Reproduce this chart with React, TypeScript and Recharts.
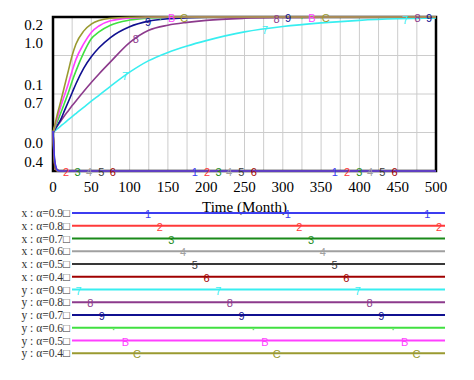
import React from "react";
import {
  ComposedChart,
  Line,
  Scatter,
  XAxis,
  YAxis,
  CartesianGrid,
  ReferenceArea,
} from "recharts";

// sample times (months)
const months = [0, 2, 4, 6, 10, 15, 20, 25, 30, 40, 50, 60, 75, 100, 125, 150, 175, 200, 250, 300, 350, 400, 450, 500];

// x series (left scale 0 - 0.2)
const xA09 = [0.052, 0.016, 0.005, 0.001, 0, 0, 0, 0, 0, 0, 0, 0, 0, 0, 0, 0, 0, 0, 0, 0, 0, 0, 0, 0];
const xA08 = [0.052, 0.014, 0.004, 0.001, 0, 0, 0, 0, 0, 0, 0, 0, 0, 0, 0, 0, 0, 0, 0, 0, 0, 0, 0, 0];
const xA07 = [0.052, 0.012, 0.003, 0.001, 0, 0, 0, 0, 0, 0, 0, 0, 0, 0, 0, 0, 0, 0, 0, 0, 0, 0, 0, 0];
const xA06 = [0.052, 0.011, 0.002, 0, 0, 0, 0, 0, 0, 0, 0, 0, 0, 0, 0, 0, 0, 0, 0, 0, 0, 0, 0, 0];
const xA05 = [0.052, 0.01, 0.002, 0, 0, 0, 0, 0, 0, 0, 0, 0, 0, 0, 0, 0, 0, 0, 0, 0, 0, 0, 0, 0];
const xA04 = [0.052, 0.008, 0.001, 0, 0, 0, 0, 0, 0, 0, 0, 0, 0, 0, 0, 0, 0, 0, 0, 0, 0, 0, 0, 0];

// y series (left scale 0.4 - 1.0)
const yA09 = [0.55, 0.555, 0.56, 0.565, 0.575, 0.587, 0.6, 0.612, 0.624, 0.648, 0.672, 0.695, 0.73, 0.785, 0.83, 0.862, 0.887, 0.908, 0.942, 0.963, 0.977, 0.987, 0.993, 0.996];
const yA08 = [0.55, 0.559, 0.568, 0.577, 0.594, 0.615, 0.635, 0.655, 0.673, 0.71, 0.745, 0.778, 0.825, 0.9, 0.948, 0.968, 0.979, 0.987, 0.995, 0.998, 0.999, 1, 1, 1];
const yA07 = [0.55, 0.56, 0.57, 0.58, 0.6, 0.635, 0.67, 0.705, 0.74, 0.8, 0.845, 0.88, 0.92, 0.962, 0.984, 0.993, 0.997, 0.999, 1, 1, 1, 1, 1, 1];
const yA06 = [0.55, 0.565, 0.58, 0.595, 0.625, 0.665, 0.705, 0.75, 0.79, 0.86, 0.915, 0.942, 0.968, 0.988, 0.996, 0.999, 1, 1, 1, 1, 1, 1, 1, 1];
const yA05 = [0.55, 0.57, 0.59, 0.61, 0.65, 0.695, 0.74, 0.79, 0.835, 0.895, 0.94, 0.965, 0.985, 0.996, 0.999, 1, 1, 1, 1, 1, 1, 1, 1, 1];
const yA04 = [0.55, 0.575, 0.6, 0.625, 0.67, 0.73, 0.79, 0.85, 0.895, 0.945, 0.972, 0.986, 0.995, 0.999, 1, 1, 1, 1, 1, 1, 1, 1, 1, 1];

// where the number markers sit on each line
const mark1 = { t: [185, 368], v: [0, 0] };
const mark2 = { t: [17, 201, 384], v: [0, 0, 0] };
const mark3 = { t: [32, 216, 400], v: [0, 0, 0] };
const mark4 = { t: [47, 230, 414], v: [0, 0, 0] };
const mark5 = { t: [63, 246, 430], v: [0, 0, 0] };
const mark6 = { t: [78, 262, 446], v: [0, 0, 0] };
const mark7 = { t: [94, 277, 460], v: [0.775, 0.955, 0.993] };
const mark8 = { t: [108, 292, 476], v: [0.92, 0.998, 1] };
const mark9 = { t: [124, 307, 491], v: [0.984, 1, 1] };
const mark0 = { t: [140, 325], v: [0.998, 1] };
const markB = { t: [155, 338], v: [1, 1] };
const markC = { t: [171, 356], v: [1, 1] };

const xTicks = [0, 25, 50, 75, 100, 125, 150, 175, 200, 225, 250, 275, 300, 325, 350, 375, 400, 425, 450, 475, 500];
const yTicks = [0.4, 0.55, 0.7, 0.85, 1.0];

const series = [
  { key: "x09", label: "x : α=0.9□", axis: "x", color: "#3c3cf0", sym: "1", values: xA09, marks: mark1 },
  { key: "x08", label: "x : α=0.8□", axis: "x", color: "#ff3a3a", sym: "2", values: xA08, marks: mark2 },
  { key: "x07", label: "x : α=0.7□", axis: "x", color: "#1a8a1a", sym: "3", values: xA07, marks: mark3 },
  { key: "x06", label: "x : α=0.6□", axis: "x", color: "#a0a0a0", sym: "4", values: xA06, marks: mark4 },
  { key: "x05", label: "x : α=0.5□", axis: "x", color: "#383838", sym: "5", values: xA05, marks: mark5 },
  { key: "x04", label: "x : α=0.4□", axis: "x", color: "#a00000", sym: "6", values: xA04, marks: mark6 },
  { key: "y09", label: "y : α=0.9□", axis: "y", color: "#38eef0", sym: "7", values: yA09, marks: mark7 },
  { key: "y08", label: "y : α=0.8□", axis: "y", color: "#8c3a8c", sym: "8", values: yA08, marks: mark8 },
  { key: "y07", label: "y : α=0.7□", axis: "y", color: "#101090", sym: "9", values: yA07, marks: mark9 },
  { key: "y06", label: "y : α=0.6□", axis: "y", color: "#40e040", sym: "·", values: yA06, marks: mark0 },
  { key: "y05", label: "y : α=0.5□", axis: "y", color: "#ff40ff", sym: "B", values: yA05, marks: markB },
  { key: "y04", label: "y : α=0.4□", axis: "y", color: "#9a9a30", sym: "C", values: yA04, marks: markC },
];

const rows = months.map((t, i) => {
  const r: Record<string, number> = { t };
  series.forEach((s) => (r[s.key] = s.values[i]));
  return r;
});

const SERIF = "'Liberation Serif', 'Times New Roman', serif";
const SANS = "'Liberation Sans', Arial, sans-serif";
const Y_LABEL_RIGHT = 43;

const XTick = (props: any) => {
  const { x, y, payload } = props;
  if (payload.value % 50 !== 0) return <g />;
  return (
    <text x={x} y={y + 16} textAnchor="middle" dominantBaseline="central" fontFamily={SERIF} fontSize={15} fill="#000">
      {payload.value}
    </text>
  );
};

// two stacked scales on the left: x (0-0.2) above y (0.4-1.0)
const yPairs: Record<string, [string, string, number, number]> = {
  "1": ["0.2", "1.0", 8, 26],
  "0.7": ["0.1", "0.7", -9, 9],
  "0.4": ["0.0", "0.4", -28, -9],
};

const YTick = (props: any) => {
  const { y, payload } = props;
  const p = yPairs[String(payload.value)];
  if (!p) return <g />;
  return (
    <g>
      <text x={Y_LABEL_RIGHT} y={y + p[2]} textAnchor="end" dominantBaseline="central" fontFamily={SERIF} fontSize={15} fill="#000">{p[0]}</text>
      <text x={Y_LABEL_RIGHT} y={y + p[3]} textAnchor="end" dominantBaseline="central" fontFamily={SERIF} fontSize={15} fill="#000">{p[1]}</text>
    </g>
  );
};

const AxisTitle = (props: any) => {
  const vb = props.viewBox || { x: 53, y: 171, width: 383 };
  return (
    <text x={vb.x + vb.width / 2} y={vb.y + 41} textAnchor="middle" fontFamily={SERIF} fontSize={15} fill="#000">
      Time (Month)
    </text>
  );
};

const markShape = (color: string, sym: string) => (props: any) => (
  <text x={props.cx} y={props.cy + 1} textAnchor="middle" dominantBaseline="central" fontFamily={SANS} fontSize={11} fill={color}>
    {sym}
  </text>
);

// legend rows under the plot
const LEG_TOP = 213;
const LEG_STEP = 12.75;
const LEG_X0 = 72;
const LEG_X1 = 445;
const MARK_GAP = 11.7;
const MARK_PERIOD = 139.7;

function LegendBlock() {
  return (
    <svg width={474} height={380} style={{ position: "absolute", left: 0, top: 0, pointerEvents: "none" }}>
      {series.map((s, i) => {
        const y = LEG_TOP + i * LEG_STEP;
        const first = LEG_X0 + ((76 + i * MARK_GAP) % MARK_PERIOD);
        const pos: number[] = [];
        for (let p = first; p <= LEG_X1; p += MARK_PERIOD) pos.push(p);
        return (
          <g key={s.key}>
            <text x={70} y={y} textAnchor="end" dominantBaseline="central" fontFamily={SERIF} fontSize={11.5} fill="#333">
              {s.label}
            </text>
            <line x1={LEG_X0} x2={LEG_X1} y1={y} y2={y} stroke={s.color} strokeWidth={2} />
            {pos.map((p) => (
              <text key={p} x={p} y={y + 1} textAnchor="middle" dominantBaseline="central" fontFamily={SANS} fontSize={11} fill={s.color}>
                {s.sym}
              </text>
            ))}
          </g>
        );
      })}
    </svg>
  );
}

export default function App() {
  const drawOrder = [...series.slice(6), ...series.slice(0, 6).reverse()];
  return (
    <div style={{ position: "absolute", left: 0, top: 0, width: 474, height: 380, background: "#fff" }}>
      <ComposedChart width={474} height={380} data={rows} margin={{ top: 17, right: 38, bottom: 164, left: 0 }}>
        <CartesianGrid yAxisId="y" stroke="#cccccc" strokeWidth={1} />
        <XAxis
          dataKey="t"
          type="number"
          domain={[0, 500]}
          ticks={xTicks}
          interval={0}
          tick={<XTick />}
          tickLine={false}
          tickSize={0}
          tickMargin={0}
          axisLine={false}
          height={45}
          label={<AxisTitle />}
        />
        <YAxis
          yAxisId="y"
          type="number"
          domain={[0.4, 1.0]}
          ticks={yTicks}
          interval={0}
          tick={<YTick />}
          tickLine={false}
          tickSize={0}
          tickMargin={0}
          axisLine={false}
          width={53}
        />
        <YAxis yAxisId="x" type="number" domain={[0, 0.2]} hide />
        <ReferenceArea yAxisId="y" x1={0} x2={500} y1={0.4} y2={1.0} fill="none" stroke="#000" strokeWidth={2.5} ifOverflow="visible" />
        {drawOrder.map((s) => (
          <Line
            key={s.key}
            yAxisId={s.axis}
            dataKey={s.key}
            type="monotone"
            stroke={s.color}
            strokeWidth={1.6}
            dot={false}
            activeDot={false}
            isAnimationActive={false}
          />
        ))}
        {series.map((s) => (
          <Scatter
            key={"m" + s.key}
            yAxisId={s.axis}
            data={s.marks.t.map((t, i) => ({ t, v: s.marks.v[i] }))}
            dataKey="v"
            shape={markShape(s.color, s.sym)}
            isAnimationActive={false}
          />
        ))}
      </ComposedChart>
      <LegendBlock />
    </div>
  );
}
